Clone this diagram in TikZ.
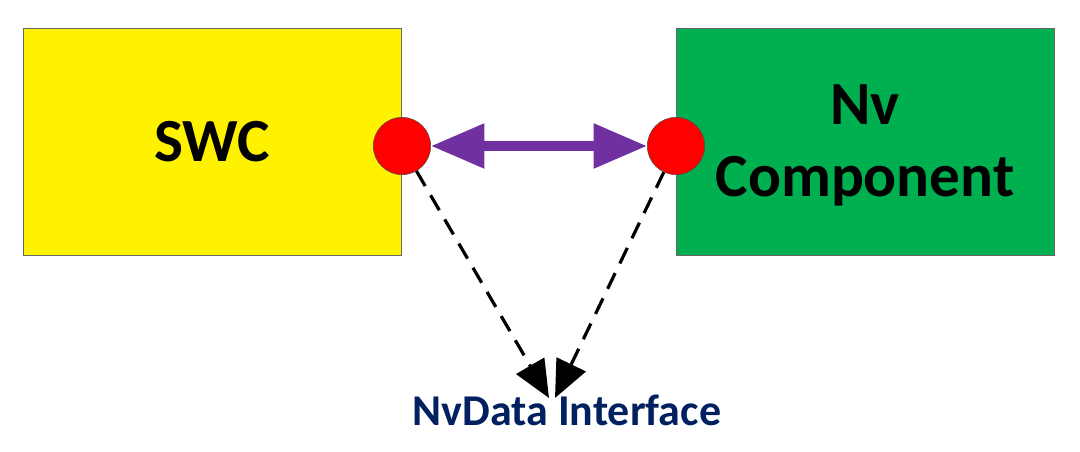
\documentclass[tikz,border=0pt]{standalone}
\usepackage{fontspec}
\setmainfont{Carlito}
\usetikzlibrary{arrows.meta}
\begin{document}
\begin{tikzpicture}[x=0.75pt,y=-0.75pt,
  box/.style={draw=black!60,line width=0.6pt},
  port/.style={circle,draw=black!70,fill=red,minimum size=43pt,inner sep=0pt},
  lbl/.style={font=\bfseries\fontsize{46}{50}\selectfont,align=center}]
\useasboundingbox (0,0) rectangle (1080,452);
\fill[box,fill={rgb,255:red,0;green,176;blue,80}] (676,28) rectangle (1054,255);
\fill[box,fill=yellow] (23,28) rectangle (401,255);
\node[lbl] (swc) at (212,142) {SWC};
\node[lbl] (nv) at (865,145) {Nv\\[4pt]Component};
\node[port] (p1) at (402,146) {};
\node[port] (p2) at (676,146) {};
\draw[draw={rgb,255:red,112;green,48;blue,160},line width=7pt,
  {Triangle[length=40pt,width=32pt]}-{Triangle[length=40pt,width=32pt]}] (p1.east) -- (p2.west);
\node[font=\bfseries\fontsize{33}{36}\selectfont,text={rgb,255:red,0;green,32;blue,96}] (if) at (567,410) {NvData Interface};
\coordinate (t1) at (549,398);
\coordinate (t2) at (555,398);
\draw[dashed,line width=2.4pt,dash pattern=on 13pt off 8pt,-{Triangle[length=28pt,width=24pt]}] (p1.-60) -- (t1);
\draw[dashed,line width=2.4pt,dash pattern=on 13pt off 8pt,-{Triangle[length=28pt,width=24pt]}] (p2.-115) -- (t2);
\end{tikzpicture}
\end{document}
